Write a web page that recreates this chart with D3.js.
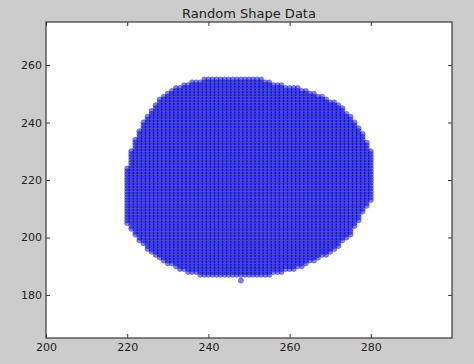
<!DOCTYPE html>
<html>
<head>
<meta charset="utf-8">
<script src="https://cdn.jsdelivr.net/npm/d3@7"></script>
<style>
  body { margin: 0; background: #cccccc; }
  text { font-family: "DejaVu Sans", sans-serif; fill: #222; }
</style>
</head>
<body>
<svg></svg>
<script>
// shape rows: y value, first and last x filled on that row
const rowY    = [255,254,253,252,251,250,249,248,247,246,245,244,243,242,241,240,239,238,237,236,235,234,233,232,231,230,229,228,227,226,225,224,223,222,221,220,219,218,217,216,215,214,213,212,211,210,209,208,207,206,205,204,203,202,201,200,199,198,197,196,195,194,193,192,191,190,189,188,187];
const rowXMin = [239,236,234,232,231,230,229,228,228,227,227,226,226,225,225,224,224,224,223,223,223,222,222,222,222,221,221,221,221,221,221,220,220,220,220,220,220,220,220,220,220,220,220,220,220,220,220,220,220,220,220,221,221,222,222,223,223,224,225,225,226,227,228,229,230,232,233,235,238];
const rowXMax = [253,255,258,262,264,266,268,269,271,272,273,273,274,275,275,276,276,277,277,278,278,278,279,279,279,280,280,280,280,280,280,280,280,280,280,280,280,280,280,280,280,280,280,279,279,278,278,277,277,277,276,276,275,275,275,274,273,272,272,271,270,269,267,266,264,263,261,258,255];
// stray points outside the rows
const extraX = [248];
const extraY = [185];

const xTicks = [200, 220, 240, 260, 280];
const yTicks = [180, 200, 220, 240, 260];

const W = 474, H = 364;
const m = {left: 46, right: 22, top: 22, bottom: 26};

const svg = d3.select('svg')
    .attr('width', W)
    .attr('height', H);

const x = d3.scaleLinear().domain([200, 300]).range([m.left, W - m.right]);
const y = d3.scaleLinear().domain([165, 275]).range([H - m.bottom, m.top]);

svg.append('rect')
    .attr('x', m.left).attr('y', m.top)
    .attr('width', W - m.left - m.right)
    .attr('height', H - m.top - m.bottom)
    .attr('fill', '#fff');

svg.append('clipPath').attr('id', 'clip')
  .append('rect')
    .attr('x', m.left).attr('y', m.top)
    .attr('width', W - m.left - m.right)
    .attr('height', H - m.top - m.bottom);

// expand rows into grid points
const points = [];
rowY.forEach((yy, i) => {
    for (let xx = rowXMin[i]; xx <= rowXMax[i]; xx++) points.push([xx, yy]);
});
extraX.forEach((xx, i) => points.push([xx, extraY[i]]));

svg.append('g')
    .attr('clip-path', 'url(#clip)')
  .selectAll('circle')
  .data(points)
  .enter()
  .append('circle')
    .attr('cx', d => x(d[0]))
    .attr('cy', d => y(d[1]))
    .attr('r', 2.7)
    .attr('fill', '#0000ff')
    .attr('fill-opacity', 0.5)
    .attr('stroke', '#000')
    .attr('stroke-opacity', 0.35)
    .attr('stroke-width', 0.5);

// axes, ticks pointing inward on all four sides
const axBottom = svg.append('g')
    .attr('transform', 'translate(0,' + (H - m.bottom) + ')')
    .call(d3.axisBottom(x).tickValues(xTicks).tickSizeInner(-4).tickSizeOuter(0).tickPadding(5));
const axTop = svg.append('g')
    .attr('transform', 'translate(0,' + m.top + ')')
    .call(d3.axisTop(x).tickValues(xTicks).tickSizeInner(-4).tickSizeOuter(0).tickFormat(''));
const axLeft = svg.append('g')
    .attr('transform', 'translate(' + m.left + ',0)')
    .call(d3.axisLeft(y).tickValues(yTicks).tickSizeInner(-4).tickSizeOuter(0).tickPadding(4));
const axRight = svg.append('g')
    .attr('transform', 'translate(' + (W - m.right) + ',0)')
    .call(d3.axisRight(y).tickValues(yTicks).tickSizeInner(-4).tickSizeOuter(0).tickFormat(''));

[axBottom, axTop, axLeft, axRight].forEach(g => {
    g.select('.domain').remove();
    g.selectAll('text').attr('font-size', 11).attr('font-family', 'DejaVu Sans');
    g.selectAll('line').attr('stroke', '#333');
});

svg.append('rect')
    .attr('x', m.left).attr('y', m.top)
    .attr('width', W - m.left - m.right)
    .attr('height', H - m.top - m.bottom)
    .attr('fill', 'none')
    .attr('stroke', '#444')
    .attr('stroke-width', 1.3);

svg.append('text')
    .attr('x', (m.left + W - m.right) / 2)
    .attr('y', 18)
    .attr('text-anchor', 'middle')
    .attr('font-size', 13)
    .text('Random Shape Data');
</script>
</body>
</html>
